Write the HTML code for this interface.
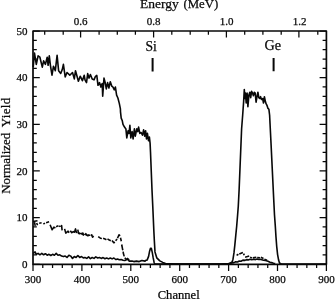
<!DOCTYPE html>
<html><head><meta charset="utf-8"><title>RBS spectrum</title>
<style>
html,body{margin:0;padding:0;background:#fff;}
svg{display:block;}
text{font-family:"Liberation Serif","DejaVu Serif",serif;fill:#0a0a0a;stroke:#0a0a0a;stroke-width:0.25px;}
.t text{font-size:11px;}
</style></head><body>
<svg width="335" height="299" viewBox="0 0 335 299">
<rect width="335" height="299" fill="#fff"/>
<g fill="none" stroke="#080808" stroke-linejoin="round" stroke-linecap="butt">
<polyline stroke-width="1.6" points="33.2,67.1 34.5,53.0 36.3,64.4 38.1,55.9 39.9,57.2 42.3,67.1 43.6,60.8 45.4,64.4 47.2,57.2 48.1,65.3 49.3,55.9 50.4,65.3 52.0,75.2 53.5,66.2 55.3,70.7 57.1,55.4 58.6,70.7 60.7,73.4 62.2,69.8 63.4,64.4 65.2,77.0 67.0,72.5 69.8,75.2 72.5,72.5 74.3,78.9 75.5,70.7 78.4,81.2 80.2,76.2 82.4,80.7 84.2,75.2 85.0,79.9 86.5,82.6 87.7,73.6 89.0,78.1 90.4,74.5 92.2,79.0 94.0,79.9 95.5,76.3 96.8,75.4 98.0,85.3 99.5,82.6 100.9,87.1 102.2,83.5 102.7,96.2 104.0,78.1 105.2,82.6 106.3,88.9 107.6,82.6 108.9,88.0 110.3,81.7 111.8,86.2 113.0,87.1 114.3,89.8 115.4,87.1 116.6,95.2 117.9,98.0 119.3,103.4 120.4,108.8 120.5,111.8 121.2,118.1 122.3,120.8 123.0,124.4 124.5,127.1 125.9,128.9 126.8,137.9 128.1,130.7 129.0,133.4 129.9,125.3 130.8,137.9 132.1,131.6 133.1,138.9 134.4,128.9 135.3,136.2 136.8,128.9 137.7,131.6 138.6,127.1 139.8,133.4 141.1,132.5 142.5,135.2 143.6,129.8 144.7,136.2 145.6,130.7 146.5,138.9 147.4,133.4 148.5,140.7 149.4,137.1 150.1,143.4 150.5,152.0 152.0,190.0 152.8,207.0 153.8,230.0 154.3,240.0 155.0,251.9 156.8,257.9 159.8,260.9 162.8,262.4 165.5,263.6 175.0,264.0 220.0,264.0 229.4,263.6 232.1,261.9 233.0,259.2 234.0,252.7 234.9,244.4 235.8,235.2 236.7,226.0 237.6,215.0 238.3,206.0 239.1,190.0 241.6,129.0 242.7,114.8 243.6,102.1 244.3,89.5 244.9,98.5 245.4,93.1 246.2,103.0 247.1,93.1 247.9,106.6 248.9,94.9 249.8,92.2 250.7,97.6 251.6,91.3 252.5,93.1 253.4,95.8 254.3,92.2 255.2,93.1 256.1,102.1 257.0,96.7 257.9,92.2 258.8,97.6 259.7,98.5 260.6,96.7 261.5,99.4 262.6,98.5 263.5,103.0 264.4,96.7 265.5,102.1 266.2,103.9 267.1,105.7 268.0,108.4 268.9,109.3 269.6,115.0 270.1,125.0 271.1,145.0 273.6,197.0 274.5,215.0 275.3,226.0 276.0,237.1 276.7,246.3 277.6,254.6 278.6,260.1 279.5,263.0 281.3,264.0 290.0,264.0 326.0,264.0"/>
<polyline stroke-width="1.6" points="33.2,253.4 35.1,251.9 36.3,254.3 38.1,253.4 39.9,254.8 41.8,253.4 43.6,254.8 45.4,253.7 47.2,255.2 49.0,254.3 50.8,255.5 52.6,254.3 54.4,255.2 56.2,253.4 58.0,255.2 59.8,254.8 61.6,256.1 63.4,256.6 65.2,256.1 67.0,257.4 68.9,255.2 70.7,256.1 72.5,258.4 74.3,256.6 76.1,257.4 77.9,255.5 79.7,257.4 81.5,256.6 83.3,257.9 85.0,257.5 86.8,258.4 88.6,256.9 90.4,258.7 92.2,257.5 94.0,258.4 95.8,256.9 97.7,258.0 99.5,257.5 101.3,258.4 103.1,257.6 104.9,258.7 106.7,258.0 108.5,258.9 110.3,258.0 112.1,258.9 113.9,258.0 115.7,259.5 117.5,259.1 119.3,259.8 121.2,259.5 123.0,260.2 124.8,260.5 127.5,259.3 129.3,261.1 132.0,261.1 133.8,261.6 136.5,261.1 139.2,261.6 141.9,260.5 145.0,261.1 145.5,260.6 147.1,260.1 148.6,256.4 149.6,251.2 150.5,248.2 151.3,248.2 152.3,252.7 153.2,257.9 154.1,262.4 154.6,263.8 175.0,264.0 220.0,264.0 228.0,263.8 232.2,262.9 234.0,262.6 235.7,261.8 237.5,262.0 239.3,261.0 241.0,261.2 242.9,260.1 245.0,260.4 246.5,259.6 248.3,259.9 250.0,259.3 251.8,259.7 253.7,259.2 255.5,259.6 257.2,259.1 259.0,259.5 261.0,259.4 263.5,260.3 265.5,260.5 268.0,261.2 270.0,262.2 271.6,262.6 273.5,263.2 275.2,263.6"/>
<path stroke-width="1.6" d="M33.0,221.5L37.5,220.7M34.5,222.2L35.2,225.9M36.7,223.0L37.5,225.2M39.2,223.2L41.6,222.7M43.4,224.2L44.9,223.0M46.1,222.7L49.1,221.8M50.1,224.8L52.1,229.7L53.9,227.1L55.4,228.2M56.1,226.7L58.4,225.6M59.1,226.7L59.9,225.9M60.6,226.7L61.6,225.6L62.1,230.4M64.6,228.9L65.8,233.1L68.1,231.2L69.1,232.7M70.3,230.7L71.8,232.7L73.3,231.6L74.5,232.2L75.5,228.9L76.6,233.1M77.8,229.7L78.5,233.4L80.0,233.1M81.0,233.0L82.4,234.4L84.2,235.3M85.6,234.6L87.8,235.7L90.0,234.9M78.0,232.2L79.5,233.7L80.7,233.2M81.7,234.8L82.8,233.0L83.7,234.8M84.7,234.8L85.8,233.7L87.0,235.2M87.7,235.2L88.8,234.8M90.7,235.6L91.7,234.8L92.6,237.1L93.7,236.2M98.2,236.7L100.4,238.2L101.9,238.6M103.1,238.2L104.9,238.9L106.4,239.7M107.5,238.9L109.3,240.1L110.8,240.7M112.0,240.4L113.8,242.7L115.0,242.2M115.6,240.7L117.1,238.9M117.5,238.2L119.0,234.8L120.1,235.9M120.5,237.7L121.3,241.2M121.7,244.9L122.8,250.1M123.1,251.6L123.5,253.8M121.7,244.5L122.8,250.4M123.2,252.7L124.2,256.4M124.7,257.9L126.2,259.1M126.9,258.2L129.2,260.0M236.6,255.4L238.4,254.3M239.3,254.0L242.9,252.5M243.6,253.6L244.2,255.2M245.1,257.2L249.2,256.1M250.1,257.2L251.9,257.9M252.8,257.9L256.3,257.2M257.2,257.5L259.9,257.9M260.8,257.2L263.5,258.4M264.4,259.3L267.1,260.2"/>
<path stroke-width="1.25" d="M33.00,264.3v6.8M42.78,264.3v3.8M52.56,264.3v3.8M62.34,264.3v3.8M72.12,264.3v3.8M81.90,264.3v6.8M91.68,264.3v3.8M101.46,264.3v3.8M111.24,264.3v3.8M121.02,264.3v3.8M130.80,264.3v6.8M140.58,264.3v3.8M150.36,264.3v3.8M160.14,264.3v3.8M169.92,264.3v3.8M179.70,264.3v6.8M189.48,264.3v3.8M199.26,264.3v3.8M209.04,264.3v3.8M218.82,264.3v3.8M228.60,264.3v6.8M238.38,264.3v3.8M248.16,264.3v3.8M257.94,264.3v3.8M267.72,264.3v3.8M277.50,264.3v6.8M287.28,264.3v3.8M297.06,264.3v3.8M306.84,264.3v3.8M316.62,264.3v3.8M326.40,264.3v6.8M44.70,31.0v3.8M63.20,31.0v3.8M80.60,31.0v6.5M99.10,31.0v3.8M117.30,31.0v3.8M135.40,31.0v3.8M153.60,31.0v6.5M171.80,31.0v3.8M190.20,31.0v3.8M208.40,31.0v3.8M226.40,31.0v6.5M244.70,31.0v3.8M262.90,31.0v3.8M281.20,31.0v3.8M298.90,31.0v6.5M317.80,31.0v3.8M33.0,264.30h6.8M326.4,264.30h-6.8M33.0,254.97h3.8M326.4,254.97h-3.8M33.0,245.64h3.8M326.4,245.64h-3.8M33.0,236.30h3.8M326.4,236.30h-3.8M33.0,226.97h3.8M326.4,226.97h-3.8M33.0,217.64h6.8M326.4,217.64h-6.8M33.0,208.31h3.8M326.4,208.31h-3.8M33.0,198.98h3.8M326.4,198.98h-3.8M33.0,189.64h3.8M326.4,189.64h-3.8M33.0,180.31h3.8M326.4,180.31h-3.8M33.0,170.98h6.8M326.4,170.98h-6.8M33.0,161.65h3.8M326.4,161.65h-3.8M33.0,152.32h3.8M326.4,152.32h-3.8M33.0,142.98h3.8M326.4,142.98h-3.8M33.0,133.65h3.8M326.4,133.65h-3.8M33.0,124.32h6.8M326.4,124.32h-6.8M33.0,114.99h3.8M326.4,114.99h-3.8M33.0,105.66h3.8M326.4,105.66h-3.8M33.0,96.32h3.8M326.4,96.32h-3.8M33.0,86.99h3.8M326.4,86.99h-3.8M33.0,77.66h6.8M326.4,77.66h-6.8M33.0,68.33h3.8M326.4,68.33h-3.8M33.0,59.00h3.8M326.4,59.00h-3.8M33.0,49.66h3.8M326.4,49.66h-3.8M33.0,40.33h3.8M326.4,40.33h-3.8M33.0,31.00h6.8M326.4,31.00h-6.8"/>
<rect x="33.0" y="31.0" width="293.4" height="233.3" stroke-width="1.7"/>
<path stroke-width="2" d="M152.6,58v13.5M273.6,58v13.3"/>
</g>
<g class="t"><text x="27.5" y="268.0" text-anchor="end">0</text><text x="27.5" y="221.3" text-anchor="end">10</text><text x="27.5" y="174.7" text-anchor="end">20</text><text x="27.5" y="128.0" text-anchor="end">30</text><text x="27.5" y="81.4" text-anchor="end">40</text><text x="27.5" y="34.7" text-anchor="end">50</text><text x="33.0" y="283" text-anchor="middle">300</text><text x="81.9" y="283" text-anchor="middle">400</text><text x="130.8" y="283" text-anchor="middle">500</text><text x="179.7" y="283" text-anchor="middle">600</text><text x="228.6" y="283" text-anchor="middle">700</text><text x="277.5" y="283" text-anchor="middle">800</text><text x="326.4" y="283" text-anchor="middle">900</text><text x="80.6" y="25.4" text-anchor="middle">0.6</text><text x="153.6" y="25.4" text-anchor="middle">0.8</text><text x="226.6" y="25.4" text-anchor="middle">1.0</text><text x="299.6" y="25.4" text-anchor="middle">1.2</text></g>
<text y="8.3"><tspan x="139.9" font-size="13.5">Energy</tspan> <tspan x="183.4" font-size="12.8">(MeV)</tspan></text>
<text x="157.7" y="298.6" font-size="12.6">Channel</text>
<text transform="translate(9.6,193.7) rotate(-90)" font-size="12.9" word-spacing="2.3">Normalized <tspan letter-spacing="0.4">Yield</tspan></text>
<text x="145.4" y="50.8" font-size="13.6">Si</text>
<text x="264.4" y="50.3" font-size="14.2">Ge</text>
</svg>
</body></html>
